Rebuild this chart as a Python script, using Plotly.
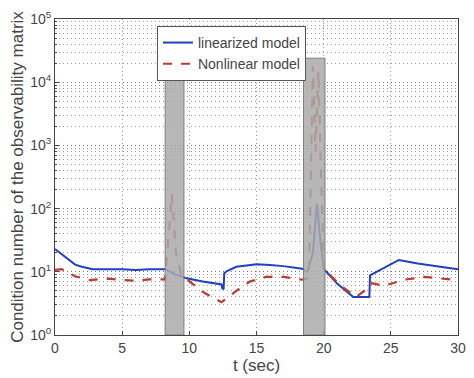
import plotly.graph_objects as go

# ---- data ----
t_lin = [0, 0.5, 1, 1.5, 2, 2.8, 4, 5, 6, 7, 8.2, 8.6, 9.0, 9.4, 9.7, 11, 12.4, 12.45, 12.55, 12.6, 12.8,
         13.5, 15, 16, 17, 18.4, 18.8, 19.2, 19.5, 19.7, 20.0, 20.2, 21, 22.2, 23.4, 23.45, 24.5, 25.6,
         27, 28.5, 30]
y_lin = [23, 19, 15.5, 13, 12, 11, 11, 11, 10.7, 11, 11, 10, 9, 8.5, 8, 7, 6.3, 5.5, 5.3, 9.5, 10.3,
         12, 13.2, 12.8, 12.3, 11.2, 10, 20, 120, 40, 11, 10, 6.5, 4, 4, 8.8, 11.5, 15.4,
         13.5, 12.3, 11]

t_non = [0, 0.5, 1, 1.5, 2.6, 4, 5, 6, 7, 8.2, 8.7, 9.0, 9.4, 9.7, 11, 12.4, 13.5, 14.5, 15.7, 17,
         18.4, 18.9, 19.2, 19.4, 19.6, 20.0, 20.3, 21.3, 22.4, 23.3, 23.6, 24.5, 26, 27.5, 29, 30]
y_non = [10.7, 11, 9.5, 8.5, 7.4, 7.8, 7.4, 7.2, 7.6, 7.6, 170, 20, 9, 8, 4.8, 3.3, 5, 7, 8.3, 8.3,
         7.5, 8, 18000, 800, 15000, 12, 9.6, 6, 4, 5.5, 6.6, 6, 7.5, 8.3, 7.8, 7.4]

band_start = [8.2, 18.5]
band_end = [9.6, 20.1]
band_top = [13000, 24000]

series_names = ["linearized model", "Nonlinear model"]
y_tickvals = [1, 10, 100, 1000, 10000, 100000]
y_ticktext = ["10<sup>%d</sup>" % i for i in range(6)]
x_tickvals = [0, 5, 10, 15, 20, 25, 30]

fig = go.Figure()
fig.add_trace(go.Scatter(x=t_lin, y=y_lin, mode="lines", name=series_names[0],
                         line=dict(color="#1f3fc4", width=2)))
fig.add_trace(go.Scatter(x=t_non, y=y_non, mode="lines", name=series_names[1],
                         line=dict(color="#c0392b", width=2.2, dash="dash")))

for s, e, top in zip(band_start, band_end, band_top):
    fig.add_shape(type="rect", xref="x", yref="y", x0=s, x1=e, y0=1, y1=top,
                  fillcolor="rgba(170,170,170,0.85)", line=dict(width=1, color="rgba(120,120,120,0.9)"),
                  layer="above")

gridcol = "rgba(90,90,90,0.6)"
dotdash = "1px,3px"

fig.update_xaxes(range=[0, 30], tickvals=x_tickvals, showline=True, mirror=True,
                 linecolor="#444", linewidth=1, ticks="inside", ticklen=4, tickcolor="#444",
                 zeroline=False, automargin=False, title=dict(text="t (sec)", standoff=4),
                 showgrid=True, gridcolor=gridcol, griddash=dotdash, gridwidth=1)
fig.update_yaxes(type="log", range=[0, 5], tickvals=y_tickvals, ticktext=y_ticktext,
                 showline=True, mirror=True, linecolor="#444", linewidth=1,
                 ticks="inside", ticklen=4, tickcolor="#444", zeroline=False, automargin=False,
                 title=dict(text="Condition number of the observability matrix", standoff=8),
                 showgrid=True, gridcolor=gridcol, griddash=dotdash, gridwidth=1,
                 minor=dict(dtick="D1", showgrid=True, gridcolor=gridcol,
                            griddash=dotdash, ticks="inside", ticklen=2, tickcolor="#444"))

fig.update_layout(
    width=466, height=370,
    margin=dict(l=47, r=16, t=11, b=43),
    paper_bgcolor="white", plot_bgcolor="white",
    font=dict(family="Liberation Sans, Arial, sans-serif", size=14, color="#444"),
    showlegend=True,
    legend=dict(x=0.253, y=0.978, xanchor="left", yanchor="top",
                bgcolor="white", bordercolor="#555", borderwidth=1,
                font=dict(size=14, color="#444"), tracegroupgap=2),
)

fig.write_html("out.html")
